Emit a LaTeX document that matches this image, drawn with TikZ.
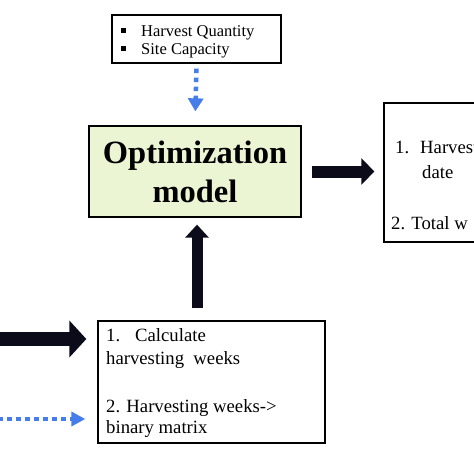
\documentclass[tikz,border=0pt]{standalone}
\usepackage{fontspec}
\setmainfont{Liberation Serif}
\usetikzlibrary{arrows.meta}
\definecolor{arrowdark}{HTML}{0B0B1A}
\definecolor{dotblue}{HTML}{467DEB}
\definecolor{optgreen}{HTML}{EBF5D3}
\tikzset{
  boxed/.style={draw=black, line width=1.3pt, inner sep=0pt},
  small/.style={font=\fontsize{16.5}{18}\selectfont, inner sep=0pt, anchor=base west},
  body/.style={font=\fontsize{18.7}{22}\selectfont, inner sep=0pt, anchor=base west},
  big/.style={font=\fontsize{32.5}{39}\selectfont\bfseries, inner sep=0pt, anchor=base},
  thick arrow/.style={draw=arrowdark, line width=#1},
  dotarrow/.style={draw=dotblue, line width=4.5pt, dash pattern=on 4.5pt off 4.5pt,
    -{Triangle[length=13pt,width=15pt,fill=dotblue]}},
}
\newcommand{\sqbullet}{\raisebox{3.5pt}{\rule{4.5pt}{4.5pt}}}
\begin{document}
\begin{tikzpicture}[x=1pt,y=-1pt]
\path[use as bounding box] (0,0) rectangle (474,474);
\clip (0,0) rectangle (474,474);
\fill[white] (0,0) rectangle (474,474);

% top input box
\node[boxed, minimum width=169pt, minimum height=48pt] (topbox) at (196.5,39) {};
\node[small] (b1) at (121,36) {\sqbullet};
\node[small] (t1) at (141,36) {Harvest Quantity};
\node[small] (b2) at (121,54) {\sqbullet};
\node[small] (t2) at (141,54) {Site Capacity};

% optimization model
\node[boxed, fill=optgreen, minimum width=212pt, minimum height=91pt] (opt) at (195,171.5) {};
\node[big] (o1) at (195,163) {Optimization};
\node[big] (o2) at (195,202) {model};

% right output box
\node[boxed, minimum width=130pt, minimum height=139pt] (outbox) at (449,172.5) {};
\node[body] (r1) at (395,153) {1.};
\node[body] (r1b) at (420,153) {Harvest};
\node[body] (r2) at (422,178) {date};
\node[body] (r3) at (391,229) {2. Total w};

% bottom box
\node[boxed, minimum width=227pt, minimum height=122pt] (botbox) at (211.5,382) {};
\node[body] (c1) at (106,341) {1.};
\node[body] (c1b) at (135,341) {Calculate};
\node[body] (c2) at (106,364) {harvesting\ \ weeks};
\node[body] (c3) at (106,412) {2. Harvesting weeks->};
\node[body] (c4) at (106,433) {binary matrix};

% connectors
\coordinate (dtop) at ([yshift=-5pt]topbox.south);
\draw[dotarrow, shorten >=14pt] (dtop) -- (opt.north);
\draw[thick arrow=12pt, -{Triangle[length=13pt,width=26pt]}, fill=arrowdark]
  ([xshift=10pt]opt.east) -- ([xshift=-9pt]outbox.west |- opt.east);
\coordinate (upS) at ([yshift=12pt, xshift=2pt]botbox.north -| opt.south);
\coordinate (upE) at ([yshift=-7pt, xshift=2pt]opt.south);
\draw[thick arrow=11pt, -{Triangle[length=13pt,width=23pt]}, fill=arrowdark]
  (upS) -- (upE);
\coordinate (inA) at (-2,339);
\coordinate (inB) at (-2,419);
\draw[thick arrow=14pt, -{Triangle[length=17pt,width=36pt]}, fill=arrowdark]
  (inA) -- ([xshift=-11pt]botbox.west |- inA);
\draw[dotarrow, -{Triangle[length=14pt,width=14pt,fill=dotblue]}]
  (inB) -- ([xshift=-12pt]botbox.west |- inB);
\end{tikzpicture}
\end{document}
